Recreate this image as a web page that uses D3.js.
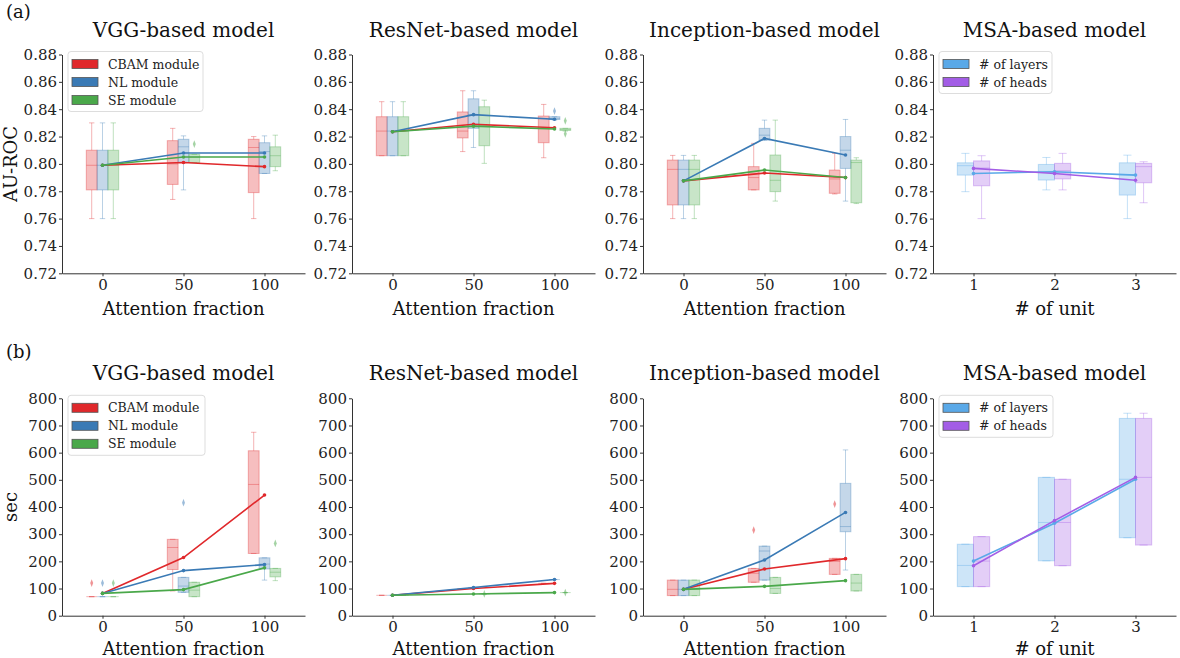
<!DOCTYPE html>
<html>
<head>
<meta charset="utf-8">
<script src="https://cdn.jsdelivr.net/npm/d3@7"></script>
<style>
  body { margin: 0; background: #fff; }
  svg { font-family: "DejaVu Serif", serif; }
  .axis path, .axis line { stroke: #333; }
  .axis text { font-size: 15px; fill: #222; font-family: "DejaVu Serif", serif; }
</style>
</head>
<body>
<svg id="chart" width="1180" height="658"></svg>
<script>
// categories
var fractionTicks = ["0", "50", "100"];
var unitTicks = ["1", "2", "3"];
var moduleNames = ["CBAM module", "NL module", "SE module"];
var msaNames = ["# of layers", "# of heads"];
var moduleColors = ["#e0282b", "#3a7ab5", "#4aa84a"];
var msaColors = ["#5aa9e8", "#a35de6"];

// box stats per series per position: [low whisker, q1, median, q3, high whisker]
var vggAucBox = [
    [[0.760, 0.781, 0.799, 0.810, 0.830], [0.774, 0.785, 0.800, 0.817, 0.826], [0.760, 0.779, 0.812, 0.818, 0.820]],
    [[0.760, 0.781, 0.799, 0.810, 0.830], [0.781, 0.801, 0.8125, 0.818, 0.8205], [0.793, 0.793, 0.809, 0.8155, 0.8205]],
    [[0.760, 0.781, 0.799, 0.810, 0.830], [0.801, 0.801, 0.805, 0.807, 0.807], [0.795, 0.798, 0.806, 0.8125, 0.821]]
];
var vggAucMean = [[0.799, 0.801, 0.798], [0.799, 0.808, 0.808], [0.799, 0.805, 0.805]];
var vggAucOut = [[2, 1, 0.8145]];

var resAucBox = [
    [[0.806, 0.806, 0.824, 0.8345, 0.8455], [0.809, 0.819, 0.824, 0.838, 0.8535], [0.8045, 0.8155, 0.826, 0.835, 0.8435]],
    [[0.806, 0.806, 0.824, 0.8345, 0.8455], [0.812, 0.826, 0.836, 0.8476, 0.8535], [0.832, 0.8325, 0.833, 0.8345, 0.8345]],
    [[0.806, 0.806, 0.824, 0.8345, 0.8455], [0.8004, 0.8133, 0.828, 0.8418, 0.8466], [0.824, 0.8245, 0.825, 0.826, 0.826]]
];
var resAucMean = [[0.8235, 0.829, 0.8264], [0.8235, 0.836, 0.8327], [0.8235, 0.8276, 0.8255]];
var resAucOut = [[1, 2, 0.8386], [2, 2, 0.8315], [2, 2, 0.822]];

var incAucBox = [
    [[0.760, 0.770, 0.796, 0.8028, 0.8062], [0.781, 0.781, 0.790, 0.798, 0.815], [0.778, 0.7785, 0.789, 0.7955, 0.8077]],
    [[0.760, 0.770, 0.796, 0.8028, 0.8062], [0.8174, 0.8174, 0.821, 0.826, 0.832], [0.7728, 0.7967, 0.810, 0.820, 0.8325]],
    [[0.760, 0.770, 0.796, 0.8028, 0.8062], [0.7728, 0.7797, 0.788, 0.8065, 0.832], [0.771, 0.7716, 0.801, 0.8028, 0.8045]]
];
var incAucMean = [[0.7876, 0.7933, 0.790], [0.7876, 0.8186, 0.8065], [0.7876, 0.7955, 0.790]];
var incAucOut = [];

var msaAucBox = [
    [[0.7797, 0.7918, 0.7987, 0.8008, 0.8077], [0.781, 0.7882, 0.7945, 0.7996, 0.8047], [0.760, 0.7772, 0.792, 0.8008, 0.8064]],
    [[0.760, 0.784, 0.797, 0.8022, 0.806], [0.781, 0.789, 0.795, 0.8004, 0.8077], [0.7716, 0.7862, 0.798, 0.8004, 0.8016]]
];
var msaAucMean = [[0.793, 0.7943, 0.7918], [0.7967, 0.793, 0.788]];
var msaAucOut = [];

var vggSecBox = [
    [[70, 70, 70, 70, 70], [91, 170, 251, 281, 281], [229, 229, 483, 607, 675]],
    [[70, 70, 70, 70, 70], [86, 86, 109, 141, 141], [131, 172, 190, 213, 213]],
    [[70, 70, 70, 70, 70], [70, 70, 94, 123, 123], [129, 143, 160, 174, 174]]
];
var vggSecMean = [[82, 214, 444], [82, 166, 188], [82, 96, 176]];
var vggSecOut = [[0, 0, 120], [1, 0, 120], [2, 0, 120], [1, 1, 416], [2, 2, 266]];

var resSecBox = [
    [[75, 75, 75, 75, 75], [100, 100, 100, 100, 100], [119, 119, 119, 119, 119]],
    [[75, 75, 75, 75, 75], [104, 104, 104, 104, 104], [133, 133, 133, 133, 133]],
    [[75, 75, 75, 75, 75], [80, 80, 80, 80, 80], [85, 85, 85, 85, 85]]
];
var resSecMean = [[75, 100, 119], [75, 104, 133], [75, 80, 85]];
var resSecOut = [[2, 1, 80], [2, 2, 85]];

var incSecBox = [
    [[74, 74, 97, 131, 131], [123, 123, 156, 174, 174], [152, 152, 200, 211, 211]],
    [[74, 74, 97, 131, 131], [131, 131, 238, 256, 256], [168, 309, 328, 487, 610]],
    [[74, 74, 97, 131, 131], [82, 82, 100, 141, 141], [91, 91, 120, 152, 152]]
];
var incSecMean = [[97, 172, 210], [97, 205, 380], [97, 108, 129]];
var incSecOut = [[0, 1, 315], [0, 2, 411]];

var msaSecBox = [
    [[107, 107, 185, 263, 263], [202, 202, 343, 509, 509], [287, 287, 502, 726, 745]],
    [[107, 107, 201, 291, 291], [184, 184, 343, 502, 502], [260, 260, 509, 726, 745]]
];
var msaSecMean = [[201, 340, 502], [184, 350, 509]];
var msaSecOut = [];

var aucTicks = [0.72, 0.74, 0.76, 0.78, 0.80, 0.82, 0.84, 0.86, 0.88];
var secTicks = [0, 100, 200, 300, 400, 500, 600, 700, 800];

var svg = d3.select("#chart");
var panelLeft = [62, 352, 643, 933];
var panelW = 243;

function drawPanel(col, top, bottom, cfg) {
    var g = svg.append("g");
    var x = d3.scaleLinear().domain([-0.5, 2.5]).range([panelLeft[col], panelLeft[col] + panelW]);
    var y = d3.scaleLinear().domain(cfg.domain).range([bottom, top]);
    var n = cfg.boxes.length;
    var bw = 0.4 / n;
    function off(s) { return (s - (n - 1) / 2) * bw; }

    g.append("g").attr("class", "axis")
        .attr("transform", "translate(0," + bottom + ")")
        .call(d3.axisBottom(x).tickValues([0, 1, 2]).tickFormat(function (i) { return cfg.ticks[i]; })
            .tickSize(3).tickPadding(3).tickSizeOuter(0));
    g.append("g").attr("class", "axis")
        .attr("transform", "translate(" + panelLeft[col] + ",0)")
        .call(d3.axisLeft(y).tickValues(cfg.yTicks).tickFormat(cfg.fmt).tickSize(3).tickPadding(2).tickSizeOuter(0));

    // boxes
    cfg.boxes.forEach(function (series, s) {
        var c = cfg.colors[s];
        series.forEach(function (b, p) {
            var cx = p + off(s);
            var x0 = x(cx - bw / 2), x1 = x(cx + bw / 2);
            var cw = (x1 - x0) / 4;
            var bg = g.append("g").attr("stroke", c).attr("stroke-opacity", 0.35).attr("stroke-width", 1);
            bg.append("line").attr("x1", x(cx)).attr("x2", x(cx)).attr("y1", y(b[0])).attr("y2", y(b[1]));
            bg.append("line").attr("x1", x(cx)).attr("x2", x(cx)).attr("y1", y(b[3])).attr("y2", y(b[4]));
            bg.append("line").attr("x1", x(cx) - cw).attr("x2", x(cx) + cw).attr("y1", y(b[0])).attr("y2", y(b[0]));
            bg.append("line").attr("x1", x(cx) - cw).attr("x2", x(cx) + cw).attr("y1", y(b[4])).attr("y2", y(b[4]));
            bg.append("rect").attr("x", x0).attr("width", x1 - x0)
                .attr("y", y(b[3])).attr("height", Math.max(0, y(b[1]) - y(b[3])))
                .attr("fill", c).attr("fill-opacity", 0.3);
            bg.append("line").attr("x1", x0).attr("x2", x1).attr("y1", y(b[2])).attr("y2", y(b[2]));
        });
    });
    cfg.out.forEach(function (o) {
        var cx = o[1] + off(o[0]);
        g.append("path").attr("d", d3.symbol(d3.symbolDiamond, 12)())
            .attr("transform", "translate(" + x(cx) + "," + y(o[2]) + ") scale(0.8,1.2)")
            .attr("fill", cfg.colors[o[0]]).attr("fill-opacity", 0.5);
    });

    // mean lines
    var line = d3.line().x(function (d, i) { return x(i); }).y(function (d) { return y(d); });
    cfg.means.forEach(function (m, s) {
        g.append("path").datum(m).attr("d", line).attr("fill", "none")
            .attr("stroke", cfg.colors[s]).attr("stroke-width", 1.6);
        g.selectAll(null).data(m).enter().append("circle")
            .attr("cx", function (d, i) { return x(i); }).attr("cy", function (d) { return y(d); })
            .attr("r", 1.8).attr("fill", cfg.colors[s]);
    });

    g.append("text").attr("x", panelLeft[col] + panelW / 2).attr("y", top - 18)
        .attr("text-anchor", "middle").attr("font-size", 20).attr("fill", "#111").text(cfg.title);
    g.append("text").attr("x", panelLeft[col] + panelW / 2).attr("y", bottom + cfg.labelGap)
        .attr("text-anchor", "middle").attr("font-size", 18).attr("fill", "#111").text(cfg.xLabel);

    if (cfg.legend) {
        var lg = g.append("g").attr("transform", "translate(" + (panelLeft[col] + 6) + "," + (top - 3) + ")");
        var rows = cfg.legend.length;
        lg.append("rect").attr("width", cfg.legendW).attr("height", rows * 18 + 6).attr("rx", 3)
            .attr("fill", "#fff").attr("fill-opacity", 0.85).attr("stroke", "#ddd");
        cfg.legend.forEach(function (name, i) {
            lg.append("rect").attr("x", 4).attr("y", 8 + i * 18).attr("width", 26).attr("height", 9)
                .attr("fill", cfg.colors[i]).attr("stroke", "#555").attr("stroke-width", 0.8);
            lg.append("text").attr("x", 40).attr("y", 17 + i * 18).attr("font-size", 12.5)
                .attr("fill", "#222").text(name);
        });
    }
}

var f2 = d3.format(".2f");
var fi = d3.format("d");
var topY = [54.5, 273.3], botY = [398.3, 615.7];

drawPanel(0, topY[0], topY[1], { domain: [0.72, 0.88], yTicks: aucTicks, fmt: f2, ticks: fractionTicks, boxes: vggAucBox, means: vggAucMean, out: vggAucOut, colors: moduleColors, title: "VGG-based model", xLabel: "Attention fraction", labelGap: 42, legend: moduleNames, legendW: 135 });
drawPanel(1, topY[0], topY[1], { domain: [0.72, 0.88], yTicks: aucTicks, fmt: f2, ticks: fractionTicks, boxes: resAucBox, means: resAucMean, out: resAucOut, colors: moduleColors, title: "ResNet-based model", xLabel: "Attention fraction", labelGap: 42 });
drawPanel(2, topY[0], topY[1], { domain: [0.72, 0.88], yTicks: aucTicks, fmt: f2, ticks: fractionTicks, boxes: incAucBox, means: incAucMean, out: incAucOut, colors: moduleColors, title: "Inception-based model", xLabel: "Attention fraction", labelGap: 42 });
drawPanel(3, topY[0], topY[1], { domain: [0.72, 0.88], yTicks: aucTicks, fmt: f2, ticks: unitTicks, boxes: msaAucBox, means: msaAucMean, out: msaAucOut, colors: msaColors, title: "MSA-based model", xLabel: "# of unit", labelGap: 42, legend: msaNames, legendW: 113 });

drawPanel(0, botY[0], botY[1], { domain: [0, 800], yTicks: secTicks, fmt: fi, ticks: fractionTicks, boxes: vggSecBox, means: vggSecMean, out: vggSecOut, colors: moduleColors, title: "VGG-based model", xLabel: "Attention fraction", labelGap: 39.5, legend: moduleNames, legendW: 137 });
drawPanel(1, botY[0], botY[1], { domain: [0, 800], yTicks: secTicks, fmt: fi, ticks: fractionTicks, boxes: resSecBox, means: resSecMean, out: resSecOut, colors: moduleColors, title: "ResNet-based model", xLabel: "Attention fraction", labelGap: 39.5 });
drawPanel(2, botY[0], botY[1], { domain: [0, 800], yTicks: secTicks, fmt: fi, ticks: fractionTicks, boxes: incSecBox, means: incSecMean, out: incSecOut, colors: moduleColors, title: "Inception-based model", xLabel: "Attention fraction", labelGap: 39.5 });
drawPanel(3, botY[0], botY[1], { domain: [0, 800], yTicks: secTicks, fmt: fi, ticks: unitTicks, boxes: msaSecBox, means: msaSecMean, out: msaSecOut, colors: msaColors, title: "MSA-based model", xLabel: "# of unit", labelGap: 39.5, legend: msaNames, legendW: 114 });

svg.append("text").attr("x", 6).attr("y", 18).attr("font-size", 18).attr("fill", "#111").text("(a)");
svg.append("text").attr("x", 6).attr("y", 358).attr("font-size", 18).attr("fill", "#111").text("(b)");
svg.append("text").attr("transform", "translate(17," + (topY[0] + topY[1]) / 2 + ") rotate(-90)")
    .attr("text-anchor", "middle").attr("font-size", 18).attr("fill", "#111").text("AU-ROC");
svg.append("text").attr("transform", "translate(17," + (botY[0] + botY[1]) / 2 + ") rotate(-90)")
    .attr("text-anchor", "middle").attr("font-size", 18).attr("fill", "#111").text("sec");
</script>
</body>
</html>
